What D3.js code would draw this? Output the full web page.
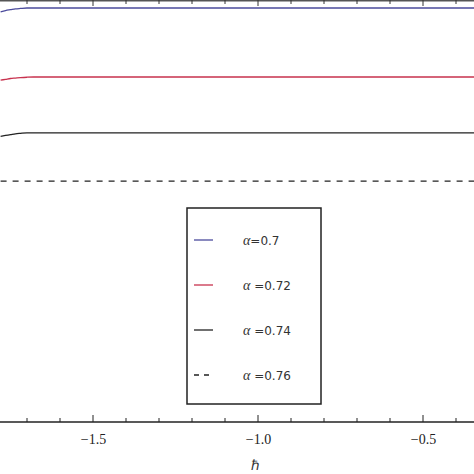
<!DOCTYPE html>
<html><head><meta charset="utf-8">
<script src="https://cdn.jsdelivr.net/npm/d3@7"></script>
<style>body{margin:0;background:#fff}</style>
</head><body><div id="chart"></div>
<script>
const xs = [-1.78, -1.765, -1.75, -1.735, -1.72, -1.70, -1.68, -1.60, -0.34];
const blue = [0.972, 0.975, 0.977, 0.979, 0.980, 0.981, 0.981, 0.981, 0.981];
const red = [0.810, 0.812, 0.814, 0.815, 0.816, 0.817, 0.8175, 0.8175, 0.8175];
const black = [0.677, 0.679, 0.681, 0.683, 0.684, 0.685, 0.685, 0.685, 0.685];
const dashed = [0.571, 0.571, 0.571, 0.571, 0.571, 0.571, 0.571, 0.571, 0.571];
const labels = ['=0.7', ' =0.72', ' =0.74', ' =0.76'];
const series = [
  {v: blue, c: '#4b4b9c', d: null},
  {v: red, c: '#c8324e', d: null},
  {v: black, c: '#222', d: null},
  {v: dashed, c: '#222', d: '6,6'}
];

const W = 474, H = 474, axisY = 422;
const x = d3.scaleLinear().domain([-1.5, -0.5]).range([93, 423]);
const y = d3.scaleLinear().domain([0, 1]).range([axisY, 0]);

const svg = d3.select('#chart').append('svg').attr('width', W).attr('height', H)
  .style('font-family', '"Liberation Serif", serif');

// top frame with ticks
svg.append('line').attr('x1', 0).attr('x2', W).attr('y1', 0.5).attr('y2', 0.5).attr('stroke', '#555').attr('stroke-width', 2);
svg.append('g').selectAll('line').data(d3.range(-1.7, -0.3, 0.1)).join('line')
  .attr('x1', d => x(d)).attr('x2', d => x(d)).attr('y1', 0).attr('y2', (d, i) => i % 5 === 2 ? 6 : 4)
  .attr('stroke', '#333');

// bottom axis
const ax = svg.append('g').attr('transform', `translate(0,${axisY})`)
  .call(d3.axisBottom(x).tickValues([-1.5, -1.0, -0.5]).tickFormat(d3.format('.1f')).tickSize(0).tickPadding(12));
ax.select('.domain').remove();
ax.selectAll('text').attr('font-size', 14).attr('font-family', '"Liberation Serif", serif').attr('fill', '#222')
  .text(d => '\u2212' + Math.abs(d).toFixed(1));
svg.append('line').attr('x1', 0).attr('x2', W).attr('y1', axisY).attr('y2', axisY).attr('stroke', '#222').attr('stroke-width', 1.3);
svg.append('g').selectAll('line').data(d3.range(-1.7, -0.3, 0.1)).join('line')
  .attr('x1', d => x(d)).attr('x2', d => x(d)).attr('y1', axisY).attr('y2', (d, i) => axisY - (i % 5 === 2 ? 7 : 4))
  .attr('stroke', '#222');
svg.append('text').attr('x', 255).attr('y', 470).attr('text-anchor', 'middle').attr('font-size', 14).attr('fill', '#333').text('\u210F');

const line = d3.line().x((d, i) => x(xs[i])).y(d => y(d)).curve(d3.curveMonotoneX);
series.forEach(s => {
  svg.append('path').datum(s.v).attr('d', line).attr('fill', 'none')
    .attr('stroke', s.c).attr('stroke-width', 1.3).attr('stroke-dasharray', s.d);
});

// legend
const lg = svg.append('g');
lg.append('rect').attr('x', 187).attr('y', 208).attr('width', 134).attr('height', 196)
  .attr('fill', '#fff').attr('stroke', '#222').attr('stroke-width', 1.5);
series.forEach((s, i) => {
  const yy = 240 + i * 45;
  lg.append('line').attr('x1', 194).attr('x2', 213).attr('y1', yy).attr('y2', yy)
    .attr('stroke', s.c).attr('stroke-width', 1.3).attr('stroke-dasharray', s.d ? '5,5' : null);
  const t = lg.append('text').attr('x', 243).attr('y', yy + 5).attr('font-size', 14).attr('fill', '#333');
  t.append('tspan').attr('font-style', 'italic').text('\u03B1');
  t.append('tspan').attr('font-family', '"DejaVu Sans", sans-serif').attr('font-size', 12).text(labels[i]);
});
</script></body></html>
